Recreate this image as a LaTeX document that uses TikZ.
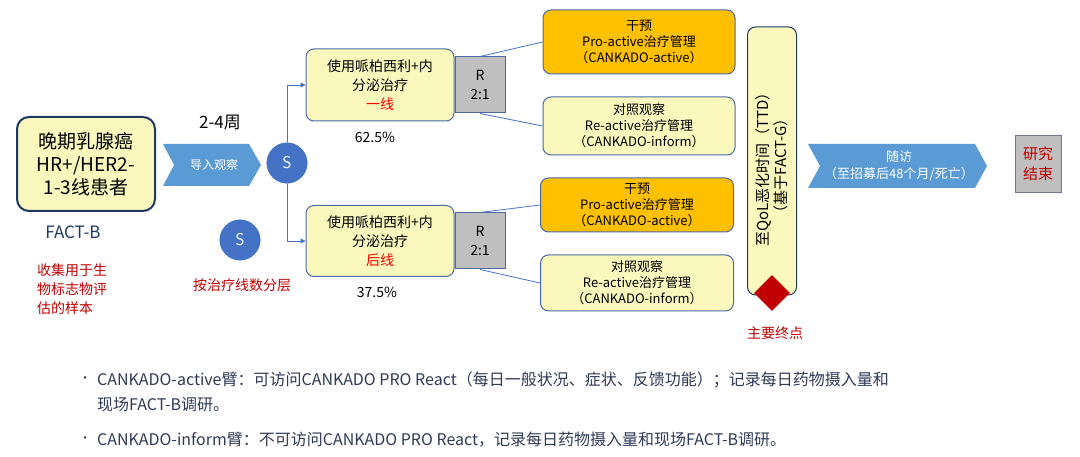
\documentclass[tikz,border=0pt]{standalone}
\usepackage{fontspec}
\setmainfont{Noto Sans CJK SC}
\usetikzlibrary{shapes.geometric,arrows.meta}
\definecolor{yel}{HTML}{FBF8BE}
\definecolor{org}{HTML}{FFC000}
\definecolor{bord}{HTML}{4A68A8}
\definecolor{navy}{HTML}{1F3864}
\definecolor{sblue}{HTML}{4472C4}
\definecolor{chev}{HTML}{5B9BD5}
\definecolor{gry}{HTML}{BFBFBF}
\definecolor{redt}{HTML}{C00000}
\definecolor{txt}{HTML}{2F3A56}
\tikzset{
 ybox/.style={draw=bord,line width=1pt,rounded corners=8pt,fill=yel,align=center,inner sep=0pt},
 armbox/.style={ybox,font=\fontsize{13}{16}\selectfont},
 rbox/.style={draw=bord,line width=1pt,fill=gry,align=center,inner sep=0pt,font=\fontsize{14}{19}\selectfont},
 scirc/.style={circle,fill=sblue,draw=white,line width=0.8pt,minimum size=42pt,inner sep=0pt,text=white,font=\fontsize{17}{17}\selectfont\sffamily},
 conn/.style={draw=sblue,line width=0.8pt},
}
\begin{document}
\begin{tikzpicture}[x=1pt,y=-1pt]
\useasboundingbox (0,0) rectangle (1080,457);
% patient box
\node[ybox,draw=navy,line width=2pt,rounded corners=12pt,minimum width=138pt,minimum height=94pt,font=\fontsize{19}{23}\selectfont] (pt) at (86,164) {晚期乳腺癌\\HR+/HER2-\\1-3线患者};
\node[text=navy,font=\fontsize{17}{17}\selectfont] (fb) at (73,232) {FACT-B};
\node[text=redt,align=left,anchor=north west,font=\fontsize{14}{19}\selectfont,inner sep=0pt] (bio) at (37,263) {收集用于生\\物标志物评\\估的样本};
\node[font=\fontsize{17}{17}\selectfont] (wk) at (220,123) {2-4周};
% chevron 1
\fill[chev] (163,144) -- (249,144) -- (261,165) -- (249,186) -- (163,186) -- (174,165) -- cycle;
\node[text=white,font=\fontsize{12}{12}\selectfont] (imp) at (214,165) {导入观察};
\node[scirc] (s1) at (287,163) {S};
\node[scirc] (s2) at (240,240) {S};
\node[text=redt,font=\fontsize{14}{14}\selectfont] (strat) at (242,285) {按治疗线数分层};
% treatment boxes
\node[ybox,minimum width=148pt,minimum height=72pt,font=\fontsize{14}{19}\selectfont] (b1) at (380,85) {使用哌柏西利+内\\分泌治疗\\\textcolor{red}{一线}};
\node[ybox,minimum width=148pt,minimum height=71pt,font=\fontsize{14}{19}\selectfont] (b2) at (380,241) {使用哌柏西利+内\\分泌治疗\\\textcolor{red}{后线}};
\node[rbox,minimum width=50pt,minimum height=56pt] (r1) at (480,85) {R\\2:1};
\node[rbox,minimum width=50pt,minimum height=56pt] (r2) at (480,241) {R\\2:1};
\node[font=\fontsize{14}{14}\selectfont] (p1) at (375,137) {62.5\%};
\node[font=\fontsize{14}{14}\selectfont] (p2) at (377,292) {37.5\%};
\draw[conn,-{Triangle[length=5pt,width=5pt]}] (s1.north) |- (b1.west);
\draw[conn,-{Triangle[length=5pt,width=5pt]}] (s1.south) |- (b2.west);
% arms
\node[armbox,fill=org,minimum width=192pt,minimum height=64pt] (a1) at (639,42) {干预\\Pro-active治疗管理\\（CANKADO-active）};
\node[armbox,minimum width=192pt,minimum height=58pt] (a2) at (639,126) {对照观察\\Re-active治疗管理\\（CANKADO-inform）};
\node[armbox,fill=org,minimum width=193pt,minimum height=54pt] (a3) at (637,205) {干预\\Pro-active治疗管理\\（CANKADO-active）};
\node[armbox,minimum width=193pt,minimum height=56pt] (a4) at (637,283) {对照观察\\Re-active治疗管理\\（CANKADO-inform）};
\draw[conn] (r1.north) -- (a1.west);
\draw[conn] (r1.south) -- (a2.west);
\draw[conn] (r2.north) -- (a3.west);
\draw[conn] (r2.south) -- (a4.west);
% TTD
\node[ybox,draw=navy,minimum width=49pt,minimum height=268pt] (ttd) at (772,161) {};
\node[rotate=90,align=center,font=\fontsize{15}{18}\selectfont] (ttdt) at (772,166) {至QoL恶化时间（TTD）\\（基于FACT-G）};
\node[diamond,fill=redt,minimum width=36pt,minimum height=36pt,inner sep=0pt] (dm) at (772,293) {};
\node[text=redt,font=\fontsize{14}{14}\selectfont] (pe) at (775,333) {主要终点};
% chevron 2
\fill[chev] (808,144) -- (975,144) -- (987,166) -- (975,188) -- (808,188) -- (820,166) -- cycle;
\node[text=white,align=center,font=\fontsize{13}{17}\selectfont] (fu) at (899,166) {随访\\（至招募后48个月/死亡）};
\node[rbox,draw=gray!70!bord,minimum width=46pt,minimum height=57pt,text=redt,font=\fontsize{15}{20}\selectfont] (end) at (1038,164) {研究\\结束};
% bullets
\begin{scope}[every node/.style={anchor=west,inner sep=0pt,text=txt,font=\fontsize{16}{16}\selectfont}]
\node (d1) at (79,380) {\fontsize{12}{12}\selectfont •};
\node (l1) at (97,380) {CANKADO-active臂：可访问CANKADO PRO React（每日一般状况、症状、反馈功能）；记录每日药物摄入量和};
\node (l2) at (97,405) {现场FACT-B调研。};
\node (d2) at (79,440) {\fontsize{12}{12}\selectfont •};
\node (l3) at (97,440) {CANKADO-inform臂：不可访问CANKADO PRO React，记录每日药物摄入量和现场FACT-B调研。};
\end{scope}
\end{tikzpicture}
\end{document}
